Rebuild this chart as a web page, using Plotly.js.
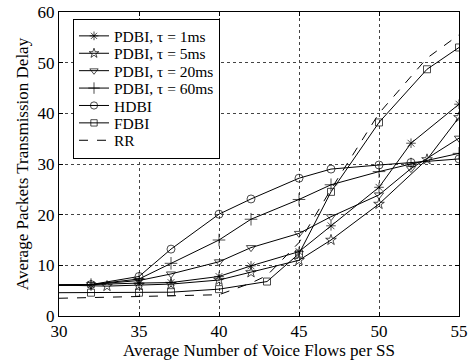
<!DOCTYPE html>
<html>
<head>
<meta charset="utf-8">
<script src="https://cdn.plot.ly/plotly-3.0.1.min.js"></script>
<style>html,body{margin:0;padding:0;background:#fff;}#chart{width:474px;height:364px;}</style>
</head>
<body>
<div id="chart"></div>
<script>
// Data
const seriesNames = ["PDBI, \u03c4 = 1ms", "PDBI, \u03c4 = 5ms", "PDBI, \u03c4 = 20ms", "PDBI, \u03c4 = 60ms", "HDBI", "FDBI", "RR"];

const x1ms  = [30, 32, 35, 37, 40, 42, 45, 47, 50, 52, 55];
const y1ms  = [6.1, 6.2, 6.5, 6.6, 7.8, 9.9, 12.7, 17.8, 25.4, 34.1, 41.8];

const x5ms  = [30, 33, 35, 37, 40, 42, 45, 47, 50, 53, 55];
const y5ms  = [6.1, 5.9, 6.1, 6.3, 7.1, 8.6, 11.0, 15.0, 22.1, 30.9, 39.2];

const x20ms = [30, 32, 35, 37, 40, 42, 45, 47, 50, 52, 55];
const y20ms = [6.1, 6.2, 7.0, 8.3, 10.7, 13.5, 16.3, 19.6, 23.9, 29.1, 35.1];

const x60ms = [30, 32, 35, 37, 40, 42, 45, 47, 50, 52, 55];
const y60ms = [6.1, 6.2, 7.3, 10.4, 15.0, 19.1, 23.0, 25.9, 28.5, 30.0, 32.1];

const xHDBI = [30, 32, 35, 37, 40, 42, 45, 47, 50, 52, 55];
const yHDBI = [6.1, 6.2, 7.8, 13.2, 20.1, 23.1, 27.2, 29.0, 29.8, 30.3, 31.0];

const xFDBI = [30, 32, 35, 37, 40, 43, 45, 47, 50, 53, 55];
const yFDBI = [4.6, 4.6, 4.6, 4.7, 5.3, 6.8, 12.3, 24.5, 38.2, 48.7, 53.0];

const xRR = [30, 35, 40, 42, 43, 45, 47, 50, 53, 55];
const yRR = [3.5, 3.8, 4.2, 6.5, 8.0, 14.5, 25.0, 40.0, 50.9, 55.5];

const xTicks = [30, 35, 40, 45, 50, 55];
const yTicks = [0, 10, 20, 30, 40, 50, 60];

const serif = "Liberation Serif, Times New Roman, serif";

function mk(x, y, name, symbol, size) {
  return {
    x: x, y: y, name: name, type: "scatter", mode: "lines+markers",
    line: {color: "#000", width: 1},
    marker: {symbol: symbol, color: "#000", size: x.map(v => v === 30 ? 0 : size),
             line: {color: "#000", width: 1}},
    cliponaxis: true
  };
}

const traces = [
  mk(x1ms, y1ms, seriesNames[0], "asterisk-open", 8),
  mk(x5ms, y5ms, seriesNames[1], "star-open", 8),
  mk(x20ms, y20ms, seriesNames[2], "triangle-down-open", 8),
  mk(x60ms, y60ms, seriesNames[3], "cross-thin-open", 9),
  mk(xHDBI, yHDBI, seriesNames[4], "circle-open", 8),
  mk(xFDBI, yFDBI, seriesNames[5], "square-open", 7),
  {x: xRR, y: yRR, name: seriesNames[6], type: "scatter", mode: "lines",
   line: {color: "#000", width: 1, dash: "dash"}}
];

const axisFont = {family: serif, size: 17, color: "#000"};

const layout = {
  width: 474, height: 364,
  margin: {l: 59, r: 15, t: 12, b: 48},
  paper_bgcolor: "#fff", plot_bgcolor: "#fff",
  font: {family: serif, size: 17, color: "#000"},
  showlegend: true,
  legend: {x: 0.035, y: 0.976, xanchor: "left", yanchor: "top",
           bgcolor: "#fff", bordercolor: "#000", borderwidth: 1,
           font: {family: serif, size: 15.5, color: "#000"},
           tracegroupgap: 0, itemwidth: 30},
  xaxis: {range: [30, 55], tickvals: xTicks, ticktext: xTicks.map(String),
          showline: true, mirror: "ticks", linecolor: "#000", linewidth: 1,
          ticks: "inside", ticklen: 4, tickcolor: "#000",
          showgrid: true, gridcolor: "#444", griddash: "dot", gridwidth: 1,
          zeroline: false, tickfont: axisFont,
          title: {text: "Average Number of Voice Flows per SS", font: axisFont, standoff: 2}},
  yaxis: {range: [0, 60], tickvals: yTicks, ticktext: yTicks.map(String),
          showline: true, mirror: "ticks", linecolor: "#000", linewidth: 1,
          ticks: "inside", ticklen: 4, tickcolor: "#000",
          showgrid: true, gridcolor: "#444", griddash: "dot", gridwidth: 1,
          zeroline: false, tickfont: axisFont,
          title: {text: "Average Packets Transmission Delay", font: axisFont, standoff: 4}}
};

Plotly.newPlot("chart", traces, layout, {displayModeBar: false, staticPlot: true}).then(function (gd) {
  // Tighten legend row spacing to match the compact MATLAB-style legend
  const leg = gd.querySelector(".legend");
  if (!leg) return;
  const items = leg.querySelectorAll(".traces");
  const spacing = 17.4;
  let y0 = null;
  items.forEach(function (g, i) {
    const t = g.getAttribute("transform") || "";
    const m = /translate\(([-\d.]+)[ ,]+([-\d.]+)\)/.exec(t);
    const xx = m ? parseFloat(m[1]) : 0;
    const yy = m ? parseFloat(m[2]) : 0;
    if (y0 === null) y0 = yy - 1;
    g.setAttribute("transform", "translate(" + xx + "," + (y0 + i * spacing) + ")");
  });
  const bg = leg.querySelector("rect.bg");
  if (bg && y0 !== null) {
    bg.setAttribute("height", (y0 + (items.length - 1) * spacing + y0 + 1).toFixed(1));
  }
});
</script>
</body>
</html>
